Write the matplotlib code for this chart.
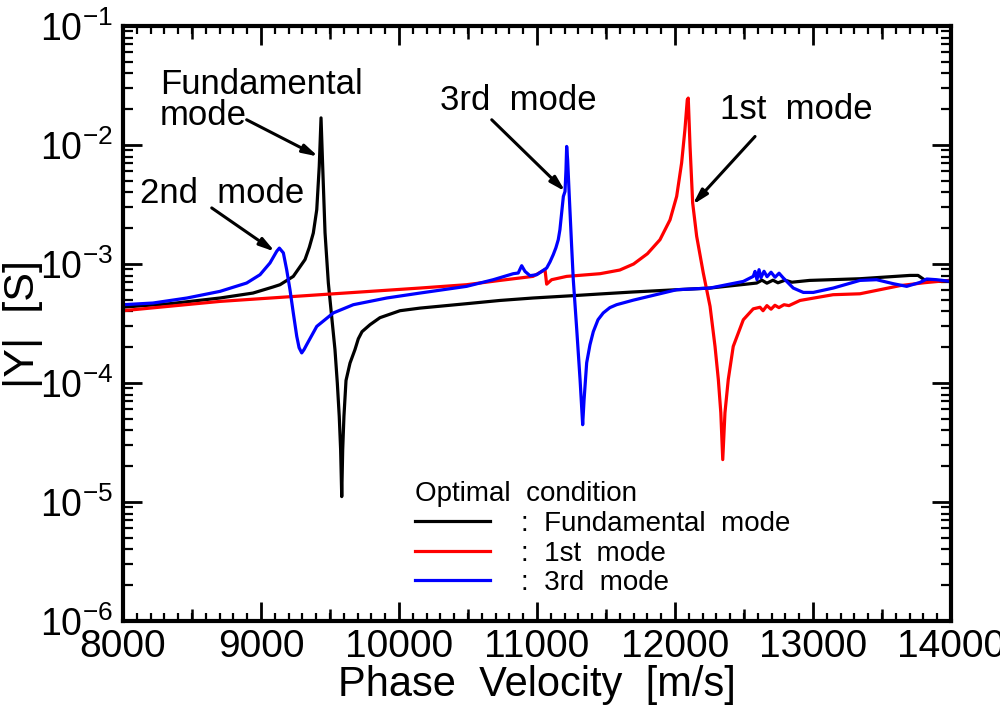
import numpy as np
import matplotlib
matplotlib.use('Agg')
import matplotlib.pyplot as plt
from matplotlib.ticker import MultipleLocator, LogLocator, FuncFormatter, NullFormatter, FixedLocator

plt.rcParams['font.family'] = ['Liberation Sans', 'DejaVu Sans']
plt.rcParams['mathtext.fontset'] = 'custom'
plt.rcParams['mathtext.rm'] = 'Liberation Sans'

# ---------------- data ----------------
fund_x = [8000, 8341, 8703, 8942, 9087, 9138, 9234, 9319, 9350, 9379, 9404, 9422, 9435,
          9447, 9464, 9488, 9512, 9536, 9553, 9567, 9577, 9585, 9592, 9601, 9616,
          9645, 9681, 9705, 9732, 9790, 9862, 10007, 10152,
          10490, 10732, 10971, 11261, 11457, 11696, 12012, 12254, 12592,
          12630, 12666, 12710, 12746, 12797, 12847, 12975, 13340, 13703, 13761,
          13799, 13824, 14000]
fund_y = [4.34e-4, 4.64e-4, 5.18e-4, 5.70e-4, 6.41e-4, 6.70e-4, 7.87e-4, 1.09e-3, 1.38e-3, 1.82e-3, 2.86e-3, 6.6e-3, 1.69e-2,
          6.61e-3, 1.83e-3, 6.92e-4, 3.63e-4, 1.91e-4, 1.0e-4, 5.24e-5, 2.75e-5, 1.11e-5, 2.75e-5, 5.24e-5, 1.05e-4,
          1.47e-4, 1.91e-4, 2.35e-4, 2.70e-4, 3.09e-4, 3.54e-4, 4.05e-4, 4.26e-4,
          4.64e-4, 4.94e-4, 5.18e-4, 5.42e-4, 5.60e-4, 5.82e-4, 6.08e-4, 6.28e-4, 6.92e-4,
          7.31e-4, 6.90e-4, 7.31e-4, 6.95e-4, 7.31e-4, 7.03e-4, 7.28e-4, 7.52e-4, 8.02e-4, 8.02e-4,
          7.48e-4, 7.14e-4, 7.14e-4]

first_x = [8000, 8703, 9427, 10152, 10490, 10732, 10971, 11058, 11070, 11106, 11215, 11457,
           11600, 11700, 11800, 11891, 11964, 12012, 12048, 12072, 12089, 12096, 12109, 12128,
           12157, 12205, 12254, 12290, 12314, 12332, 12346, 12362, 12386, 12422, 12495, 12567,
           12616, 12638, 12666, 12696, 12724, 12753, 12790, 12826, 12906, 13145, 13340,
           13630, 13811, 14000]
first_y = [4.05e-4, 4.85e-4, 5.52e-4, 6.28e-4, 6.70e-4, 7.28e-4, 7.87e-4, 8.96e-4, 6.77e-4, 7.38e-4, 7.87e-4, 8.29e-4,
           8.9e-4, 1.0e-3, 1.22e-3, 1.60e-3, 2.35e-3, 3.70e-3, 7.08e-3, 1.35e-2, 2.40e-2, 2.48e-2, 9.73e-3, 3.26e-3,
           1.71e-3, 8.40e-4, 4.41e-4, 2.03e-4, 1.07e-4, 5.62e-5, 2.27e-5, 5.62e-5, 1.07e-4, 2.03e-4, 3.40e-4, 4.20e-4,
           4.33e-4, 4.05e-4, 4.47e-4, 4.17e-4, 4.50e-4, 4.30e-4, 4.55e-4, 4.47e-4, 4.94e-4, 5.52e-4, 5.62e-4,
           6.58e-4, 6.97e-4, 7.31e-4]

third_x = [8000, 8217, 8464, 8703, 8896, 8993, 9065, 9114, 9133, 9162, 9186, 9210, 9234,
           9259, 9276, 9295, 9312, 9331, 9404, 9524, 9669, 9911, 10152, 10490, 10683, 10828, 10864,
           10889, 10913, 10949, 10998, 11070, 11094, 11118, 11137, 11154, 11166, 11191, 11203, 11210,
           11215, 11222, 11234, 11251, 11263, 11288, 11312, 11331, 11341, 11360, 11384, 11408,
           11442, 11480, 11528, 11577, 11698,
           12012, 12254, 12495, 12567, 12580, 12594, 12609, 12623, 12645, 12667, 12696,
           12725, 12754, 12783, 12857, 12930, 13002, 13147, 13340, 13461, 13582, 13679,
           13775, 13824, 13896, 14000]
third_y = [4.55e-4, 4.70e-4, 5.18e-4, 5.89e-4, 6.92e-4, 8.13e-4, 1.02e-3, 1.28e-3, 1.36e-3, 1.24e-3, 8.96e-4, 6.08e-4, 3.88e-4,
           2.47e-4, 1.98e-4, 1.79e-4, 1.91e-4, 2.10e-4, 2.99e-4, 3.88e-4, 4.55e-4, 5.18e-4, 5.70e-4, 6.49e-4, 7.38e-4, 8.29e-4, 8.40e-4,
           9.68e-4, 8.67e-4, 7.98e-4, 8.13e-4, 9.25e-4, 1.04e-3, 1.20e-3, 1.37e-3, 1.60e-3, 1.94e-3, 3.70e-3, 4.07e-3, 6.17e-3,
           9.73e-3, 7.5e-3, 3.70e-3, 1.41e-3, 7.38e-4, 2.81e-4, 1.07e-4, 4.46e-5, 7.2e-5, 1.48e-4, 2.10e-4, 2.70e-4,
           3.40e-4, 3.88e-4, 4.30e-4, 4.55e-4, 4.97e-4,
           6.08e-4, 6.28e-4, 7.14e-4, 7.87e-4, 8.67e-4, 7.38e-4, 8.96e-4, 7.67e-4, 8.69e-4, 7.82e-4, 8.53e-4,
           7.74e-4, 8.37e-4, 7.67e-4, 6.28e-4, 5.77e-4, 5.77e-4, 6.28e-4, 7.28e-4, 7.38e-4, 6.83e-4, 6.49e-4,
           7.0e-4, 7.48e-4, 7.38e-4, 7.14e-4]

legend_title = "Optimal  condition"
series_labels = [":  Fundamental  mode", ":  1st  mode", ":  3rd  mode"]
series_colors = ["#000000", "#ff0000", "#0000ff"]
x_ticks = [8000, 9000, 10000, 11000, 12000, 13000, 14000]
x_label = "Phase  Velocity  [m/s]"
y_label = "|Y|  [S]"

# ---------------- figure ----------------
fig = plt.figure(figsize=(10, 7.15), dpi=100)
ax = fig.add_axes([0.123, 0.1315, 0.828, 0.8321])

lines = []
for xs, ys, c, lab in zip([fund_x, first_x, third_x], [fund_y, first_y, third_y],
                          series_colors, series_labels):
    ln, = ax.plot(xs, ys, color=c, lw=2.3, label=lab, solid_joinstyle='round')
    lines.append(ln)

ax.set_yscale('log')
ax.set_xlim(8000, 14000)
ax.set_ylim(1e-6, 1e-1)

ax.xaxis.set_major_locator(FixedLocator(x_ticks))
ax.xaxis.set_minor_locator(MultipleLocator(100))
ax.yaxis.set_major_locator(LogLocator(base=10, numticks=20))
ax.yaxis.set_minor_locator(LogLocator(base=10, subs=np.arange(2, 10), numticks=20))
ax.yaxis.set_minor_formatter(NullFormatter())
ax.yaxis.set_major_formatter(FuncFormatter(lambda v, p: r'$\mathregular{10^{%d}}$' % round(np.log10(v))))

for s in ax.spines.values():
    s.set_linewidth(3)
ax.tick_params(which='both', direction='in', top=True, right=True)
ax.tick_params(which='major', length=14, width=2)
ax.tick_params(which='minor', length=6, width=1.6)
ax.tick_params(axis='y', which='minor', length=7)
ax.tick_params(axis='y', which='major', labelsize=27, pad=7)
ax.tick_params(axis='x', which='major', labelsize=28, pad=6)

# medium ticks every 500
for side in ('bottom', 'top'):
    sec = ax.secondary_xaxis(side)
    sec.set_xticks([8500, 9500, 10500, 11500, 12500, 13500])
    sec.set_xticklabels([])
    sec.tick_params(direction='in', length=9, width=1.8)
    sec.spines[side].set_visible(False)

ax.set_xlabel(x_label, fontsize=30, labelpad=0)
ax.set_ylabel(y_label, fontsize=31)
ax.yaxis.set_label_coords(-0.097, 0.5)

# annotations
arrow = dict(arrowstyle='-|>,head_length=0.9,head_width=0.25', color='black', lw=2.2, shrinkA=0, shrinkB=0)
ax.annotate("", xy=(9415, 8.0e-3), xytext=(8896, 1.63e-2), arrowprops=arrow)
ax.annotate("", xy=(9101, 1.27e-3), xytext=(8643, 2.96e-3), arrowprops=arrow)
ax.annotate("", xy=(11205, 4.07e-3), xytext=(10672, 1.63e-2), arrowprops=arrow)
ax.annotate("", xy=(12128, 3.15e-3), xytext=(12580, 1.18e-2), arrowprops=arrow)

ax.text(8268, 1.48e-2, "Fundamental\nmode", fontsize=25, ha='left', va='baseline', linespacing=0.9)
ax.text(8123, 3.27e-3, "2nd  mode", fontsize=25, ha='left', va='baseline')
ax.text(10297, 1.98e-2, "3rd  mode", fontsize=25, ha='left', va='baseline')
ax.text(12326, 1.66e-2, "1st  mode", fontsize=25, ha='left', va='baseline')

leg = ax.legend(handles=lines, title=legend_title, loc='upper left',
                bbox_to_anchor=(0.336, 0.258), frameon=False, fontsize=20, title_fontsize=20,
                handlelength=2.7, handletextpad=1.1, labelspacing=0.13, borderpad=0,
                alignment='left')

fig.savefig('out.png', dpi=100)
